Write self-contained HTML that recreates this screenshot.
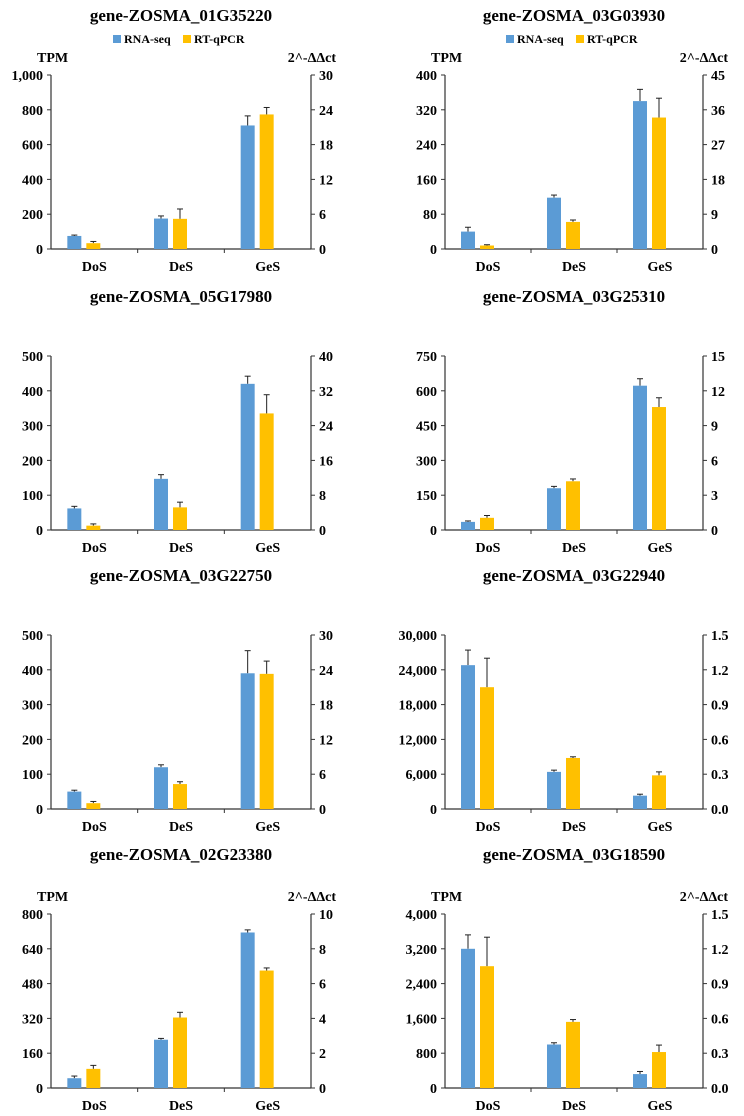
<!DOCTYPE html>
<html><head><meta charset="utf-8"><style>
body{margin:0;background:#fff;}
svg{display:block;font-family:"Liberation Serif",serif;font-weight:bold;}
</style></head><body>
<svg id="c" width="744" height="1116"></svg>
<script>
const categories=["DoS","DeS","GeS"];
const titles=["gene-ZOSMA_01G35220","gene-ZOSMA_03G03930","gene-ZOSMA_05G17980","gene-ZOSMA_03G25310","gene-ZOSMA_03G22750","gene-ZOSMA_03G22940","gene-ZOSMA_02G23380","gene-ZOSMA_03G18590"];
const leftMax=[1000,400,500,750,500,30000,800,4000];
const rightMax=[30,45,40,15,30,1.5,10,1.5];
const rightDecimals=[0,0,0,0,0,1,0,1];
const rnaSeq=[[75,175,710],[40,118,340],[62,147,420],[35,180,622],[50,120,390],[24800,6400,2300],[45,222,715],[3200,1000,320]];
const rnaErr=[[5,15,55],[10,6,27],[6,12,22],[4,8,30],[4,7,65],[2600,300,250],[10,6,12],[320,40,60]];
const qpcr=[[1.0,5.2,23.2],[0.9,7.0,34],[1.0,5.2,26.8],[1.05,4.2,10.6],[1.0,4.3,23.3],[1.05,0.44,0.29],[1.1,4.05,6.75],[1.05,0.57,0.31]];
const qpcrErr=[[0.3,1.7,1.2],[0.2,0.5,5],[0.4,1.2,4.3],[0.2,0.2,0.8],[0.3,0.4,2.2],[0.25,0.01,0.03],[0.2,0.3,0.15],[0.25,0.02,0.06]];
const NS="http://www.w3.org/2000/svg";
const svg=document.getElementById('c');
function mk(t,a,p){const e=document.createElementNS(NS,t);for(const k in a)e.setAttribute(k,a[k]);(p||svg).appendChild(e);return e;}
function fmt(v){return v.toLocaleString('en-US');}
titles.forEach((title,i)=>{
  const col=i%2,row=Math.floor(i/2);
  const x0=col?445:51,x1=col?703:311;
  const oy=[0,281,560,839][row];
  const top=75+oy,bot=249+oy,h=bot-top;
  const g=mk('g',{});
  
  
  const t=mk('text',{x:(x0+x1)/2,y:21+oy,'text-anchor':'middle','font-size':17},g);t.textContent=title;
  
  const yL=v=>bot-v/leftMax[i]*h, yR=v=>bot-v/rightMax[i]*h;
  mk('line',{x1:x0,y1:top,x2:x0,y2:bot,stroke:'#333','stroke-width':1.2},g);
  mk('line',{x1:x1,y1:top,x2:x1,y2:bot,stroke:'#333','stroke-width':1.2},g);
  mk('line',{x1:x0,y1:bot,x2:x1,y2:bot,stroke:'#333','stroke-width':1.2},g);
  for(let k=0;k<=5;k++){
    const vl=leftMax[i]*k/5,vr=rightMax[i]*k/5,y=yL(vl);
    mk('line',{x1:x0-4,y1:y,x2:x0,y2:y,stroke:'#333'},g);
    mk('line',{x1:x1,y1:y,x2:x1+4,y2:y,stroke:'#333'},g);
    const a=mk('text',{x:x0-8,y:y+5,'text-anchor':'end','font-size':14},g);a.textContent=fmt(vl);
    
    const b=mk('text',{x:x1+8,y:y+5,'font-size':14},g);b.textContent=vr.toFixed(rightDecimals[i]);
    
  }
  const cw=(x1-x0)/3;
  for(let k=1;k<3;k++)mk('line',{x1:x0+cw*k,y1:bot,x2:x0+cw*k,y2:bot+4,stroke:'#333'},g);
  categories.forEach((c,j)=>{
    const gc=x0+cw*(j+0.5);
    const bx=gc-27,yx=gc-8,w=14;
    const yb=yL(rnaSeq[i][j]),yy=yR(qpcr[i][j]);
    const eb=yL(rnaSeq[i][j]+rnaErr[i][j]),ey=yR(qpcr[i][j]+qpcrErr[i][j]);
    mk('line',{x1:bx+w/2,y1:yb,x2:bx+w/2,y2:eb,stroke:'#222'},g);
    mk('line',{x1:bx+w/2-3,y1:eb,x2:bx+w/2+3,y2:eb,stroke:'#222'},g);
    mk('line',{x1:yx+w/2,y1:yy,x2:yx+w/2,y2:ey,stroke:'#222'},g);
    mk('line',{x1:yx+w/2-3,y1:ey,x2:yx+w/2+3,y2:ey,stroke:'#222'},g);
    const r1=mk('rect',{x:bx,y:yb,width:w,height:bot-yb,fill:'#5b9bd5'},g);
    
    const r2=mk('rect',{x:yx,y:yy,width:w,height:bot-yy,fill:'#ffc000'},g);
    
    const l=mk('text',{x:gc,y:bot+22,'text-anchor':'middle','font-size':14},g);l.textContent=c;
    
  });
  if(row===0||row===3){
    const a=mk('text',{x:x0-14,y:62+oy,'font-size':14},g);a.textContent='TPM';
    
    const b=mk('text',{x:x1+25,y:62+oy,'text-anchor':'end','font-size':14},g);b.textContent='2^-ΔΔct';
    
  }
  if(row===0){
    const lx=(x0+x1)/2-68;
    mk('rect',{x:lx,y:35,width:8,height:8,fill:'#5b9bd5'},g);
    const a=mk('text',{x:lx+11,y:43,'font-size':12},g);a.textContent='RNA-seq';
    
    mk('rect',{x:lx+70,y:35,width:8,height:8,fill:'#ffc000'},g);
    const b=mk('text',{x:lx+81,y:43,'font-size':12},g);b.textContent='RT-qPCR';
    
  }
});
</script>
</body></html>
